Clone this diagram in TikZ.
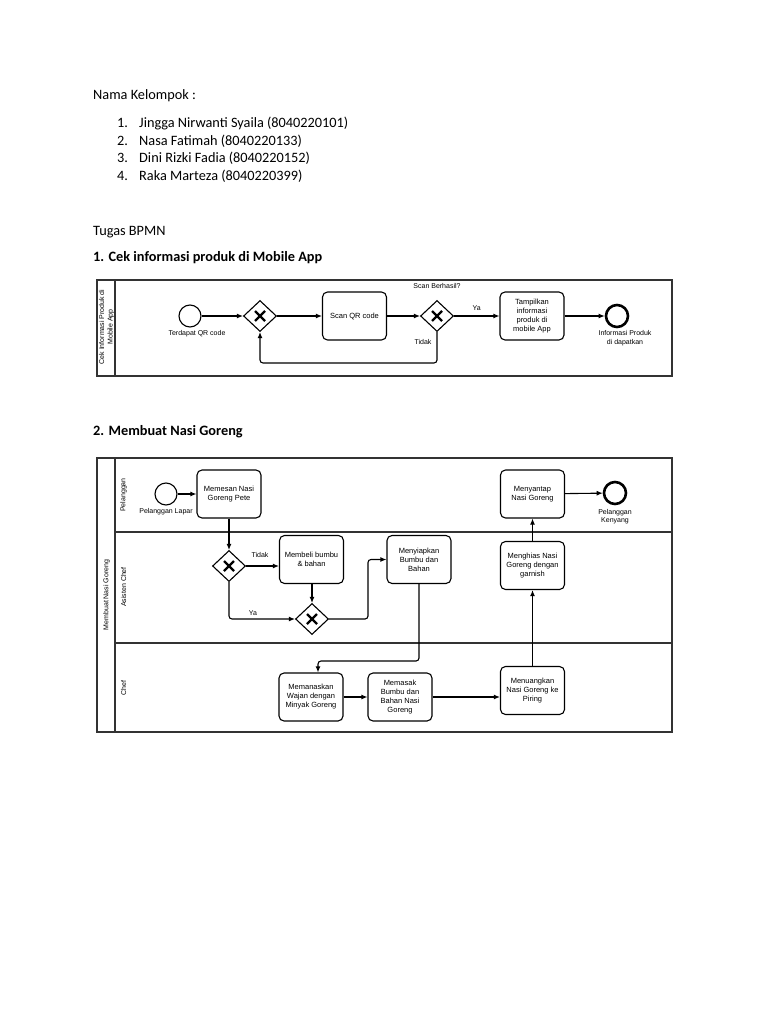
\documentclass[tikz,border=0pt]{standalone}
\usepackage{fontspec}
\setmainfont{Carlito}
\newfontfamily\diafont{Liberation Sans}
\usetikzlibrary{shapes.geometric,arrows.meta}
\begin{document}
\begin{tikzpicture}[x=1pt,y=-1pt,
  doc/.style={anchor=base west,inner sep=0pt,font=\fontsize{14.3}{17}\selectfont},
  docb/.style={doc,font=\fontsize{14.3}{17}\selectfont\bfseries},
  small/.style={font=\diafont\fontsize{7}{8.6}\selectfont,inner sep=0pt,align=center},
  task/.style={draw,line width=1.1pt,rounded corners=5pt,minimum width=64pt,minimum height=48pt,inner sep=1pt,align=center,font=\diafont\fontsize{7.5}{9}\selectfont},
  startev/.style={draw,circle,line width=1.1pt,minimum size=22pt,inner sep=0pt},
  endev/.style={draw,circle,line width=2.6pt,minimum size=22pt,inner sep=0pt},
  gate/.style={draw,diamond,line width=1.1pt,minimum width=33pt,minimum height=31pt,inner sep=0pt,
    path picture={\draw[line width=2.4pt]
      ([shift={(-5pt,-5pt)}]path picture bounding box.center) -- ([shift={(5pt,5pt)}]path picture bounding box.center)
      ([shift={(-5pt,5pt)}]path picture bounding box.center) -- ([shift={(5pt,-5pt)}]path picture bounding box.center);}},
  flow/.style={line width=1.1pt,rounded corners=3pt,-{Latex[length=6pt,width=5pt]}},
  pool/.style={draw=black!80,line width=1.1pt},
  lanelbl/.style={small,rotate=90}
]
\useasboundingbox[fill=white] (0,0) rectangle (768,1024);

% ---- header text ----
\node[doc] (t0) at (93,100) {Nama Kelompok :};
\node[doc] (n1) at (117,127.7) {1.};
\node[doc] (m1) at (139,127.7) {Jingga Nirwanti Syaila (8040220101)};
\node[doc] (n2) at (117,145.2) {2.};
\node[doc] (m2) at (139,145.2) {Nasa Fatimah (8040220133)};
\node[doc] (n3) at (117,162.7) {3.};
\node[doc] (m3) at (139,162.7) {Dini Rizki Fadia (8040220152)};
\node[doc] (n4) at (117,180.2) {4.};
\node[doc] (m4) at (139,180.2) {Raka Marteza (8040220399)};
\node[doc] (tb) at (93,235.7) {Tugas BPMN};
\node[docb] (h1) at (93,261.7) {1. Cek informasi produk di Mobile App};
\node[docb] (h2) at (93,435) {2. Membuat Nasi Goreng};

% ---- diagram 1 ----
\draw[pool] (97,280) rectangle (672,376);
\draw[pool] (115,280) -- (115,376);
\node[lanelbl] (l1) at (106.5,327) {Cek Informasi Produk di\\Mobile App};

\node[startev] (s1) at (190,316) {};
\node[small] (s1l) at (197,334) {Terdapat QR code};
\node[gate] (g1) at (260,316) {};
\node[task] (scan) at (354.5,316) {Scan QR code};
\node[gate] (g2) at (437,316) {};
\node[small] (g2l) at (437,286) {Scan Berhasil?};
\node[task] (tamp) at (532,316) {Tampilkan\\informasi\\produk di\\mobile App};
\node[endev] (e1) at (617,316) {};
\node[small] (e1l) at (625,338) {Informasi Produk\\di dapatkan};
\coordinate (loop1) at (437,363);

\draw[flow] (s1) -- (g1);
\draw[flow] (g1) -- (scan);
\draw[flow] (scan) -- (g2);
\draw[flow] (g2) -- node[small,above=5pt] {Ya} (tamp);
\draw[flow] (tamp) -- (e1);
\draw[flow] (g2.south) -- (loop1) -| (g1.south);
\node[small] (tidak1) at (423,342) {Tidak};

% ---- diagram 2 ----
\draw[pool] (97,458) rectangle (672,732);
\draw[pool] (115,458) -- (115,732);
\draw[pool] (115,532) -- (672,532);
\draw[pool] (115,643) -- (672,643);
\node[lanelbl] (pl) at (106.5,595) {Membuat Nasi Goreng};
\node[lanelbl] (l2a) at (123.5,495) {Pelanggan};
\node[lanelbl] (l2b) at (123.5,587) {Asisten Chef};
\node[lanelbl] (l2c) at (123.5,688) {Chef};

\node[startev] (s2) at (166,494) {};
\node[small] (s2l) at (166,512) {Pelanggan Lapar};
\node[task] (mem) at (229,494) {Memesan Nasi\\Goreng Pete};
\node[task] (santap) at (532.5,494) {Menyantap\\Nasi Goreng};
\node[endev] (e2) at (615,493) {};
\node[small] (e2l) at (615,516.5) {Pelanggan\\Kenyang};

\node[gate] (gA) at (229,566) {};
\node[task] (beli) at (311.5,559.5) {Membeli bumbu\\\& bahan};
\node[gate] (gB) at (312,619) {};
\node[task] (meny) at (419,559.5) {Menyiapkan\\Bumbu dan\\Bahan};
\node[task] (hias) at (532.5,565.5) {Menghias Nasi\\Goreng dengan\\garnish};

\node[task] (pan) at (311,697) {Memanaskan\\Wajan dengan\\Minyak Goreng};
\node[task] (masak) at (400,697) {Memasak\\Bumbu dan\\Bahan Nasi\\Goreng};
\node[task] (tuang) at (532.5,690.5) {Menuangkan\\Nasi Goreng ke\\Piring};

\coordinate (c1) at (368,619);
\coordinate (c2) at (419,661);

\draw[flow] (s2) -- (mem);
\draw[flow] (mem) -- (gA);
\draw[flow] (gA.east) -- (gA.east -| beli.west);
\node[small] (tidak2) at (260,555) {Tidak};
\draw[flow] (beli.south -| gB.north) -- (gB.north);
\draw[flow] (gA.south) |- (gB.west);
\node[small] (ya2) at (253,613) {Ya};
\draw[flow] (gB.east) -- (c1) |- (meny.west);
\draw[flow] (meny.south) -- (c2) -| ([xshift=7pt]pan.north);
\draw[flow] (pan) -- (masak);
\draw[flow,line width=1.6pt] (masak.east) -- (masak.east -| tuang.west);
\draw[flow] (tuang.north) -- (hias.south);
\draw[flow] (hias.north) -- (santap.south);
\draw[flow] (santap) -- (e2);
\end{tikzpicture}
\end{document}
